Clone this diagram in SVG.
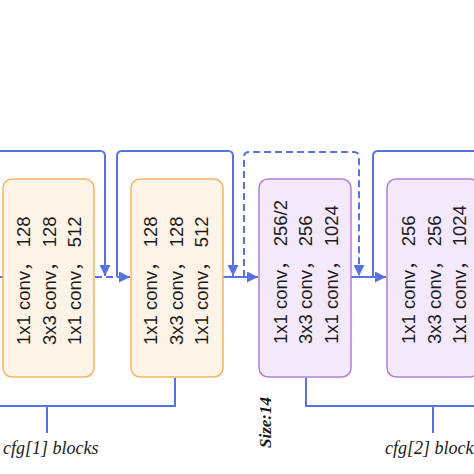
<svg xmlns="http://www.w3.org/2000/svg" width="474" height="474" viewBox="0 0 474 474">
<style>
.ln{fill:none;stroke:#5873E0;stroke-width:2;}
.dash{stroke-dasharray:7,4;}
.ob{fill:#FEF3E7;stroke:#F1B664;stroke-width:1.5;}
.pb{fill:#F4E8FB;stroke:#B47FD8;stroke-width:1.5;}
.t{font-family:"Liberation Sans","Noto Sans CJK SC",sans-serif;font-size:18.5px;fill:#1a1a1a;}
.lab{font-family:"Liberation Serif",serif;font-style:italic;font-size:18px;fill:#1a1a1a;}
.sz{font-family:"Liberation Serif",serif;font-style:italic;font-weight:bold;font-size:17px;fill:#1a1a1a;}
</style>
<defs>
<marker id="ah" viewBox="0 0 10 10" refX="10" refY="5" markerWidth="5.5" markerHeight="5.5" orient="auto" markerUnits="strokeWidth">
<path d="M0,0 L10,5 L0,10 z" fill="#5873E0"/>
</marker>
</defs>
<g id="connectors">
<line class="ln" x1="0" y1="277" x2="3" y2="277"/>
<line class="ln dash" x1="95" y1="277" x2="130" y2="277" marker-end="url(#ah)"/>
<line class="ln" x1="223" y1="277" x2="258" y2="277" marker-end="url(#ah)"/>
<line class="ln" x1="351" y1="277" x2="386" y2="277" marker-end="url(#ah)"/>
<path class="ln" d="M0,151 H100 Q105,151 105,156 V276" marker-end="url(#ah)"/>
<path class="ln" d="M117,277 V156 Q117,151 122,151 H228 Q233,151 233,156 V276" marker-end="url(#ah)"/>
<path class="ln dash" d="M244,277 V157 Q244,152 249,152 H354 Q359,152 359,157 V276" marker-end="url(#ah)"/>
<path class="ln" d="M373,277 V156 Q373,151 378,151 H474"/>
<path class="ln" d="M0,406 H175 V378"/>
<line class="ln" x1="47" y1="406" x2="47" y2="433"/>
<path class="ln" d="M306,378 V406 H474"/>
<line class="ln" x1="433" y1="406" x2="433" y2="433"/>
</g>
<g id="block1">
<rect class="ob" x="3" y="179" width="91" height="198" rx="9"/>
<text class="t" transform="translate(30,345) rotate(-90)">1x1 conv， 128</text>
<text class="t" transform="translate(55.5,345) rotate(-90)">3x3 conv， 128</text>
<text class="t" transform="translate(81,345) rotate(-90)">1x1 conv， 512</text>
</g>
<g id="block2">
<rect class="ob" x="131" y="179" width="92" height="198" rx="9"/>
<text class="t" transform="translate(157,345) rotate(-90)">1x1 conv， 128</text>
<text class="t" transform="translate(182.5,345) rotate(-90)">3x3 conv， 128</text>
<text class="t" transform="translate(208,345) rotate(-90)">1x1 conv， 512</text>
</g>
<g id="block3">
<rect class="pb" x="259" y="179" width="92" height="198" rx="9"/>
<text class="t" transform="translate(286.5,344) rotate(-90)">1x1 conv， 256/2</text>
<text class="t" transform="translate(312,344) rotate(-90)">3x3 conv， 256</text>
<text class="t" transform="translate(337.5,344) rotate(-90)">1x1 conv， 1024</text>
</g>
<g id="block4">
<rect class="pb" x="387" y="179" width="92" height="198" rx="9"/>
<text class="t" transform="translate(415,344) rotate(-90)">1x1 conv， 256</text>
<text class="t" transform="translate(440.5,344) rotate(-90)">3x3 conv， 256</text>
<text class="t" transform="translate(466,344) rotate(-90)">1x1 conv， 1024</text>
</g>
<g id="labels">
<text class="lab" x="3" y="454">cfg[1] blocks</text>
<text class="lab" x="385" y="454">cfg[2] blocks</text>
<text class="sz" transform="translate(271,448) rotate(-90)">Size:14</text>
</g>
</svg>
